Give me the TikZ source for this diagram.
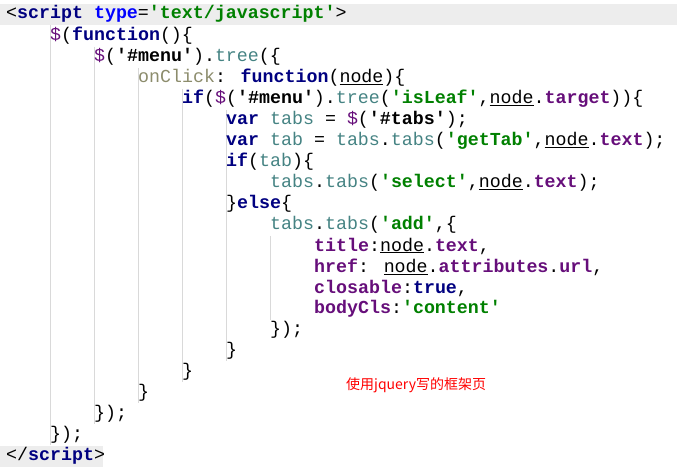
\documentclass[tikz,border=0pt]{standalone}
\usepackage{fontspec}
\setmainfont{Liberation Serif}
\newfontfamily\cf{Liberation Mono}
\newfontfamily\cjk{Noto Sans CJK SC}
\definecolor{kw}{HTML}{000080}
\definecolor{st}{HTML}{008000}
\definecolor{pr}{HTML}{660E7A}
\definecolor{gr}{HTML}{458383}
\definecolor{oc}{HTML}{8C8C6C}
\definecolor{ty}{HTML}{0000FF}
\newcommand\ckw[1]{\textcolor{kw}{\bfseries #1}}
\newcommand\cst[1]{\textcolor{st}{\bfseries #1}}
\newcommand\cpr[1]{\textcolor{pr}{\bfseries #1}}
\newcommand\cgr[1]{\textcolor{gr}{#1}}
\newcommand\cdl{\textcolor{pr}{\$}}
\newcommand\q{\char"27}
\newcommand\nd{\underline{node}}
\newcommand\hm[1]{{\bfseries\q\textcolor{black}{\##1}\q}}
\begin{document}
\begin{tikzpicture}[x=1pt,y=-1pt,
  code/.style={anchor=west,inner sep=0pt,font=\cf\fontsize{18.3}{21}\selectfont},
  guide/.style={draw=black!15,line width=0.8pt}]
\useasboundingbox (0,0) rectangle (677,470);
\fill[black!7] (0,4) rectangle (677,25);
\fill[black!7] (0,446) rectangle (103,467);
\foreach \x/\a/\b in {50/25/445,94/47/424,138/68/403,182/89/382,226/110/361,226/173/194,226/215/340,270/236/320}
  \draw[guide] (\x,\a) -- (\x,\b);
\node[code] (l1) at (6,14) {<\ckw{script} \textcolor{ty}{\bfseries type}=\cst{\q text/javascript\q}>};
\node[code] (l2) at (50,36) {\cdl(\ckw{function}()\{};
\node[code] (l3) at (94,57) {\cdl(\hm{menu}).\cgr{tree}(\{};
\node[code] (l4) at (138,78) {\textcolor{oc}{onClick}: \ckw{function}(\nd)\{};
\node[code] (l5) at (182,99) {\ckw{if}(\cdl(\hm{menu}).\cgr{tree}(\cst{\q isLeaf\q},\nd.\cpr{target}))\{};
\node[code] (l6) at (226,120) {\ckw{var} \cgr{tabs} = \cdl(\hm{tabs});};
\node[code] (l7) at (226,141) {\ckw{var} \cgr{tab} = \cgr{tabs}.\cgr{tabs}(\cst{\q getTab\q},\nd.\cpr{text});};
\node[code] (l8) at (226,162) {\ckw{if}(\cgr{tab})\{};
\node[code] (l9) at (270,183) {\cgr{tabs}.\cgr{tabs}(\cst{\q select\q},\nd.\cpr{text});};
\node[code] (l10) at (226,204) {\}\ckw{else}\{};
\node[code] (l11) at (270,225) {\cgr{tabs}.\cgr{tabs}(\cst{\q add\q},\{};
\node[code] (l12) at (314,246) {\cpr{title}:\nd.\cpr{text},};
\node[code] (l13) at (314,267) {\cpr{href}: \nd.\cpr{attributes}.\cpr{url},};
\node[code] (l14) at (314,288) {\cpr{closable}:\ckw{true},};
\node[code] (l15) at (314,309) {\cpr{bodyCls}:\cst{\q content\q}};
\node[code] (l16) at (270,330) {\});};
\node[code] (l17) at (226,351) {\}};
\node[code] (l18) at (182,372) {\}};
\node[code] (l19) at (138,393) {\}};
\node[code] (l20) at (94,414) {\});};
\node[code] (l21) at (50,435) {\});};
\node[code] (l22) at (6,456) {</\ckw{script}>};
\node[anchor=west,inner sep=0pt,text=red,font=\cjk\fontsize{14}{16}\selectfont] (note) at (346,385) {使用jquery写的框架页};
\end{tikzpicture}
\end{document}
